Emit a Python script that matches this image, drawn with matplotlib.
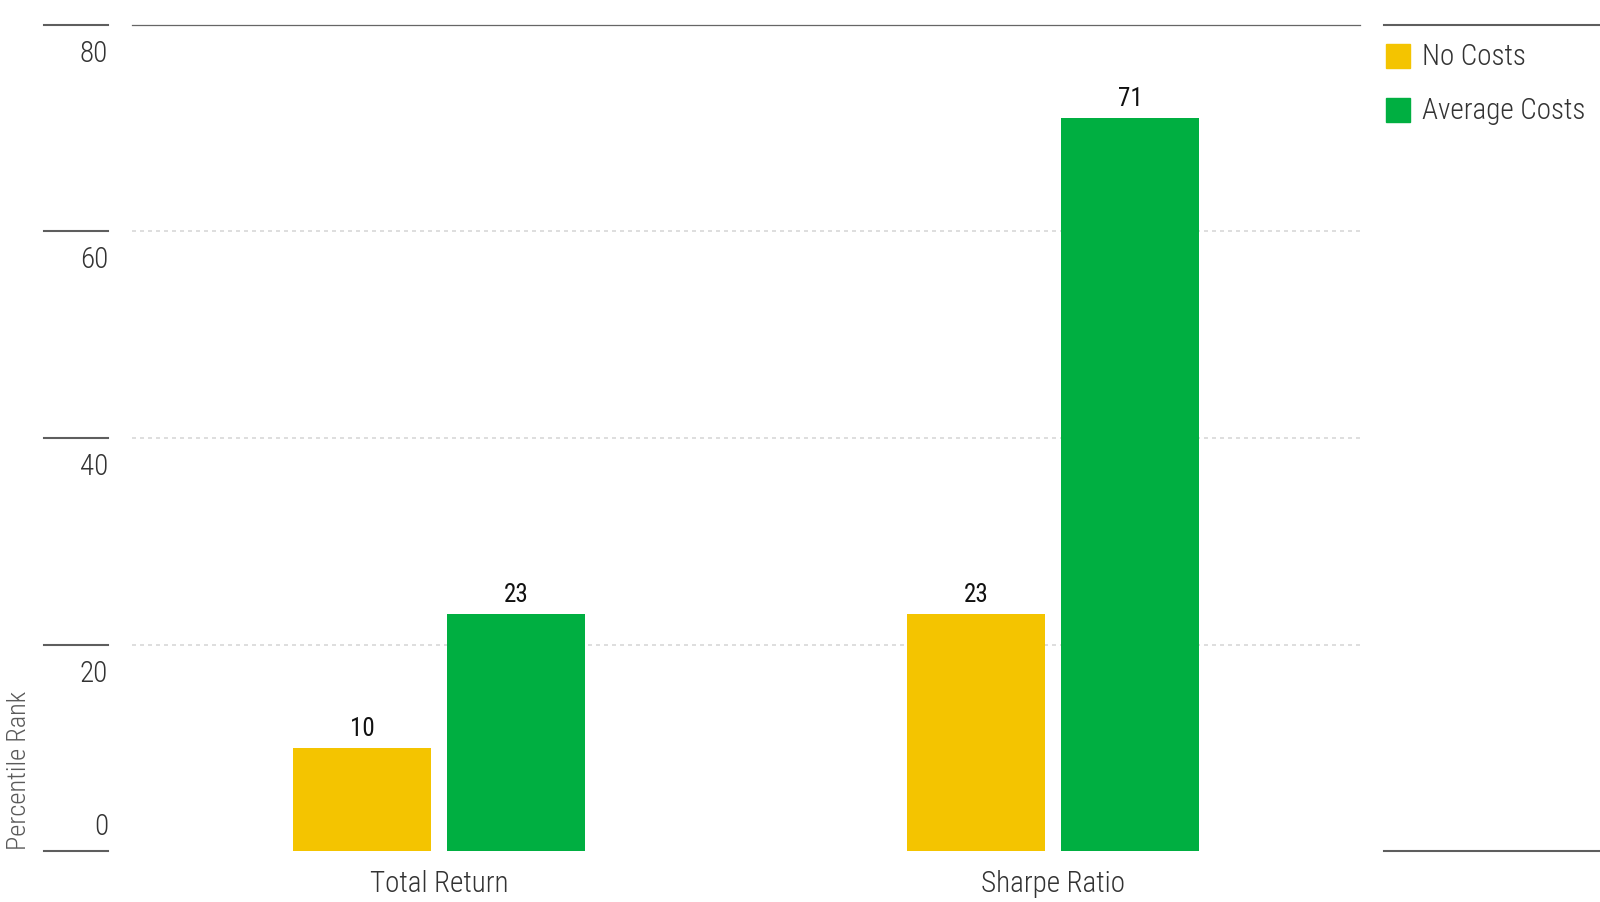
import matplotlib
matplotlib.use("Agg")
import matplotlib.pyplot as plt
import matplotlib.transforms as mtransforms
from matplotlib.lines import Line2D
from matplotlib.patches import Rectangle
import numpy as np

categories = ["Total Return", "Sharpe Ratio"]
series_names = ["No Costs", "Average Costs"]
no_costs = [10, 23]
average_costs = [23, 71]
y_ticks = [0, 20, 40, 60, 80]
y_label = "Percentile Rank"

colors = ["#F4C400", "#00AF41"]
FONT = ["Roboto Condensed", "DejaVu Sans Condensed", "Liberation Sans Narrow", "Roboto", "DejaVu Sans"]
plt.rcParams["font.family"] = FONT

W, H = 1600, 902
fig = plt.figure(figsize=(W / 100, H / 100), dpi=100)

def fx(px):
    return px / W

def fy(py):
    return 1 - py / H

ax = fig.add_axes([fx(132), fy(851), fx(1360) - fx(132), fy(25) - fy(851)])
ax.set_xlim(-0.5, 1.5)
ax.set_ylim(0, 80)
for s in ax.spines.values():
    s.set_visible(False)
ax.set_xticks([])
ax.set_yticks([])

# gridlines
for t in y_ticks[1:-1]:
    ax.axhline(t, color="#DEDEDE", lw=1.44, dashes=(2, 2), zorder=0)
ax.axhline(y_ticks[-1], color="#666666", lw=0.9, zorder=0, clip_on=False)

x = np.arange(len(categories))
bw = 0.225
off = 0.1254
vals = [no_costs, average_costs]
for i, (v, c) in enumerate(zip(vals, colors)):
    xs = x + (-off if i == 0 else off)
    ax.bar(xs, v, width=bw, color=c, zorder=2)
    for xi, vi in zip(xs, v):
        ax.annotate(str(vi), (xi, vi), xytext=(0, 8.6), textcoords="offset points",
                    ha="center", va="baseline", fontsize=18, color="#111111",
                    fontweight="normal")

# left tick lines and labels
bt = mtransforms.blended_transform_factory(fig.transFigure, ax.transData)
for t in y_ticks:
    fig.add_artist(Line2D([fx(44), fx(108)], [t, t], transform=bt, color="#5E5E5E", lw=1.5))
    dy = 16 if t == 0 else -37
    tr = bt + mtransforms.ScaledTranslation(0, dy / 100, fig.dpi_scale_trans)
    fig.text(fx(108), t, str(t), transform=tr, ha="right", va="baseline",
             fontsize=21, color="#333333", fontweight="light")

# y label
fig.text(fx(7), fy(850), y_label, rotation=90, ha="left", va="bottom",
         fontsize=19, color="#5A5A5A", fontweight="light")

# category labels
ct = mtransforms.blended_transform_factory(ax.transData, fig.transFigure)
for xi, cat in zip(x, categories):
    fig.text(xi, fy(892), cat, transform=ct, ha="center", va="baseline",
             fontsize=21, color="#333333", fontweight="light")

# right side lines
fig.add_artist(Line2D([fx(1384), 1.0], [fy(25), fy(25)], color="#5E5E5E", lw=1.5))
fig.add_artist(Line2D([fx(1384), 1.0], [fy(851), fy(851)], color="#5E5E5E", lw=1.5))

# legend
for i, (name, c) in enumerate(zip(series_names, colors)):
    top = 44 + i * 54
    fig.add_artist(Rectangle((fx(1386), fy(top + 24)), fx(24), 24 / H,
                             transform=fig.transFigure, color=c))
    fig.text(fx(1422), fy(top + 21), name, ha="left", va="baseline",
             fontsize=21, color="#333333", fontweight="light")

fig.savefig("out.png", dpi=100)
